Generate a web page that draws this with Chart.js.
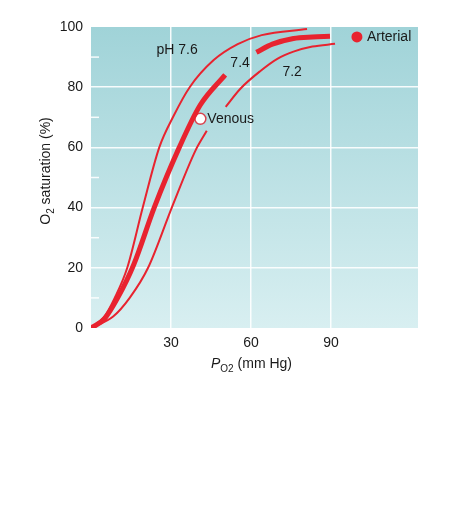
<!DOCTYPE html>
<html>
<head>
<meta charset="utf-8">
<script src="https://cdn.jsdelivr.net/npm/chart.js@4"></script>
<style>
  html, body { margin: 0; padding: 0; background: #fff; }
  canvas { display: block; }
</style>
</head>
<body>
<canvas id="chart" width="474" height="523"></canvas>
<script>
// Oxygen dissociation curves, P_O2 (mm Hg) vs O2 saturation (%)
const ph76P = [0, 5, 8.9, 13.6, 19.4, 25.6, 31, 37, 46, 55, 64, 81];
const ph76S = [0, 3.8, 10, 20, 40, 60, 70.5, 80, 89, 94.3, 97.3, 99.3];

// pH 7.4 is split where the "7.4" label sits
const ph74LowP = [0, 5, 10, 16, 23.7, 33.1, 40.9, 50.3];
const ph74LowS = [0, 3, 10, 21, 40, 60, 74, 84.1];
const ph74HighP = [62, 68, 75.9, 83, 89.6];
const ph74HighS = [91.6, 94.3, 96.2, 96.7, 96.9];

// pH 7.2 is split around the venous label
const ph72LowP = [0, 8.3, 14.5, 21.4, 30.3, 39.2, 43.4];
const ph72LowS = [0, 3.8, 10, 20, 40, 59, 65.5];
const ph72HighP = [50.5, 56, 63.4, 70, 75.9, 83, 91.5];
const ph72HighS = [73.5, 79.5, 85.3, 89.5, 91.8, 93.5, 94.4];

const venousP = [41];
const venousS = [69.5];
const arterialP = [99.7];
const arterialS = [96.7];

const pressureTicks = [30, 60, 90];
const saturationTicks = [0, 20, 40, 60, 80, 100];
const minorSaturation = [10, 30, 50, 70, 90];

const curveLabels = ['pH 7.6', '7.4', '7.2'];
const curveLabelP = [32.3, 55.9, 75.4];
const curveLabelS = [92.4, 88, 85];

const RED = '#e8232f';
const FONT = '"Liberation Sans", Arial, Helvetica, sans-serif';

function pts(xs, ys) {
  return xs.map((x, i) => ({ x: x, y: ys[i] }));
}

function curve(xs, ys, width) {
  return {
    data: pts(xs, ys),
    showLine: true,
    borderColor: RED,
    borderWidth: width,
    pointRadius: 0,
    cubicInterpolationMode: 'monotone',
    fill: false
  };
}

const backgroundPlugin = {
  id: 'background',
  beforeDraw(chart) {
    const { ctx, chartArea: a } = chart;
    ctx.save();
    ctx.fillStyle = '#fff';
    ctx.fillRect(0, 0, chart.width, chart.height);
    const g = ctx.createLinearGradient(0, a.top, 0, a.bottom);
    g.addColorStop(0, '#a0d3d8');
    g.addColorStop(1, '#d8eff1');
    ctx.fillStyle = g;
    ctx.fillRect(a.left, a.top, a.right - a.left, a.bottom - a.top);
    ctx.restore();
  },
  beforeDatasetsDraw(chart) {
    // short white minor ticks on the inside of the y axis
    const { ctx, chartArea: a, scales } = chart;
    ctx.save();
    ctx.strokeStyle = 'rgba(255,255,255,0.9)';
    ctx.lineWidth = 1.5;
    minorSaturation.forEach(v => {
      const y = scales.y.getPixelForValue(v);
      ctx.beginPath();
      ctx.moveTo(a.left, y);
      ctx.lineTo(a.left + 8, y);
      ctx.stroke();
    });
    ctx.restore();
  }
};

const textPlugin = {
  id: 'texts',
  afterDatasetsDraw(chart) {
    const { ctx, scales } = chart;
    const x = scales.x, y = scales.y;
    ctx.save();
    ctx.fillStyle = '#1a1a1a';
    ctx.font = '14px ' + FONT;
    ctx.textBaseline = 'middle';

    ctx.textAlign = 'center';
    curveLabels.forEach((t, i) => {
      ctx.fillText(t, x.getPixelForValue(curveLabelP[i]), y.getPixelForValue(curveLabelS[i]));
    });

    ctx.textAlign = 'left';
    ctx.fillText('Venous', x.getPixelForValue(venousP[0]) + 7, y.getPixelForValue(venousS[0]));
    ctx.fillText('Arterial', x.getPixelForValue(arterialP[0]) + 10, y.getPixelForValue(arterialS[0]));

    // x axis title: P with subscript O2
    ctx.textBaseline = 'alphabetic';
    const big = '14px ' + FONT, small = '10px ' + FONT;
    ctx.font = 'italic ' + big;
    const wP = ctx.measureText('P').width;
    ctx.font = small;
    const wSub = ctx.measureText('O2').width;
    ctx.font = big;
    const wRest = ctx.measureText(' (mm Hg)').width;
    const cx = (chart.chartArea.left + chart.chartArea.right) / 2 - 3;
    let sx = cx - (wP + wSub + wRest) / 2;
    const by = 368;
    ctx.font = 'italic ' + big;
    ctx.fillText('P', sx, by);
    sx += wP;
    ctx.font = small;
    ctx.fillText('O2', sx, by + 4);
    sx += wSub;
    ctx.font = big;
    ctx.fillText(' (mm Hg)', sx, by);

    // y axis title: O2 saturation (%)
    ctx.save();
    ctx.translate(50, 171);
    ctx.rotate(-Math.PI / 2);
    ctx.font = big;
    const wO = ctx.measureText('O').width;
    const wRestY = ctx.measureText(' saturation (%)').width;
    ctx.font = small;
    const w2 = ctx.measureText('2').width;
    let tx = -(wO + w2 + wRestY) / 2;
    ctx.font = big;
    ctx.fillText('O', tx, 0);
    tx += wO;
    ctx.font = small;
    ctx.fillText('2', tx, 4);
    tx += w2;
    ctx.font = big;
    ctx.fillText(' saturation (%)', tx, 0);
    ctx.restore();

    ctx.restore();
  }
};

new Chart(document.getElementById('chart'), {
  type: 'scatter',
  data: {
    datasets: [
      curve(ph76P, ph76S, 2),
      curve(ph72LowP, ph72LowS, 2),
      curve(ph72HighP, ph72HighS, 2),
      curve(ph74LowP, ph74LowS, 5),
      curve(ph74HighP, ph74HighS, 5),
      {
        data: pts(venousP, venousS),
        pointRadius: 5.5,
        pointBackgroundColor: '#ffffff',
        pointBorderColor: '#d9444f',
        pointBorderWidth: 1.5
      },
      {
        data: pts(arterialP, arterialS),
        pointRadius: 5.5,
        pointBackgroundColor: RED,
        pointBorderColor: RED,
        pointBorderWidth: 0
      }
    ]
  },
  options: {
    responsive: false,
    animation: false,
    devicePixelRatio: 1,
    layout: { padding: { left: 0, top: 27, right: 56, bottom: 0 } },
    plugins: {
      legend: { display: false },
      tooltip: { enabled: false }
    },
    scales: {
      x: {
        type: 'linear',
        min: 0,
        max: 122.6,
        afterBuildTicks: s => { s.ticks = pressureTicks.map(v => ({ value: v })); },
        afterFit: s => { s.height = 195; },
        border: { display: false },
        grid: { color: 'rgba(255,255,255,0.9)', lineWidth: 1.5, drawTicks: false },
        ticks: { color: '#1a1a1a', font: { size: 14, family: FONT }, padding: 7, maxRotation: 0 }
      },
      y: {
        min: 0,
        max: 100,
        afterBuildTicks: s => { s.ticks = saturationTicks.map(v => ({ value: v })); },
        afterFit: s => { s.width = 91; },
        border: { display: false },
        grid: {
          color: c => (c.tick && (c.tick.value === 0 || c.tick.value === 100)) ? 'rgba(0,0,0,0)' : 'rgba(255,255,255,0.9)',
          lineWidth: 1.5,
          drawTicks: false
        },
        ticks: { color: '#1a1a1a', font: { size: 14, family: FONT }, padding: 8 }
      }
    }
  },
  plugins: [backgroundPlugin, textPlugin]
});
</script>
</body>
</html>
